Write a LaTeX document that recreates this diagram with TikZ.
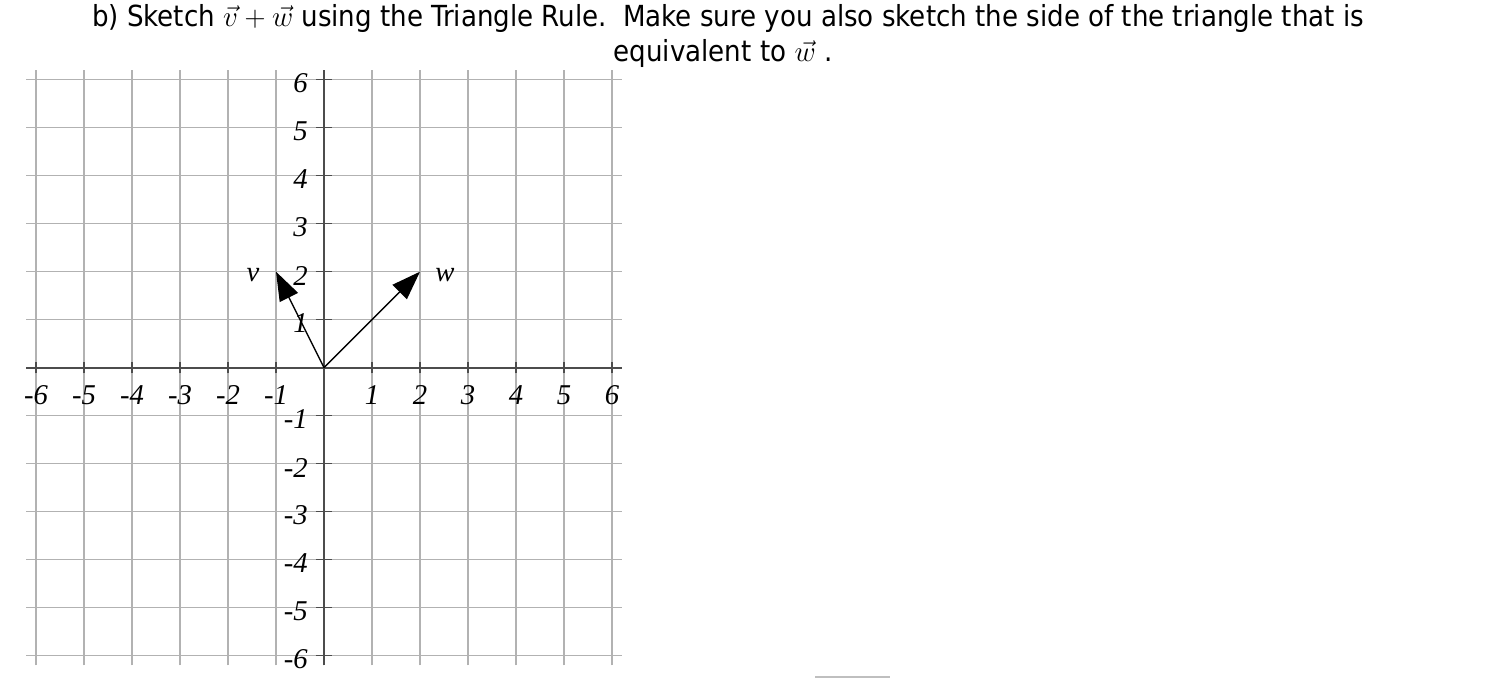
\documentclass[tikz,border=0pt]{standalone}
\usepackage{fontspec}
\setmainfont{DejaVu Sans Condensed}
\newfontfamily\axisfont{Liberation Serif}
\usetikzlibrary{arrows.meta}

\tikzset{
  gridline/.style={draw=gray!60, line width=0.9pt},
  axisline/.style={draw=black!70, line width=1.2pt},
  tickmark/.style={draw=black!70, line width=0.9pt},
  ticklabel/.style={font=\axisfont\itshape\fontsize{17}{20}\selectfont, inner sep=0pt},
  titletext/.style={anchor=base west, inner sep=0pt, font=\fontsize{17.2}{20}\selectfont},
  vecarrow/.style={-{Triangle[length=0.6cm,width=0.42cm]}, line width=0.8pt},
}

\begin{document}
\begin{tikzpicture}
    \useasboundingbox (-6.75,-6.465) rectangle (24.208,7.66);

    % Question text
    \node[titletext] (title1) at (-4.84,7.10) {b) Sketch $\vec{v}+\vec{w}$ using the Triangle Rule.\ \ Make sure you also sketch the side of the triangle that is};
    \node[titletext] (title2) at (6.03,6.375) {equivalent to $\vec{w}$ .};

    % Grid
    \draw[gridline] (-6.2,-6.2) grid (6.2,6.2);

    % Axes
    \draw[axisline] (-6.2,0) -- (6.2,0);
    \draw[axisline] (0,-6.2) -- (0,6.2);

    % Ticks and numbers
    \foreach \i in {-6,-5,-4,-3,-2,-1,1,2,3,4,5,6} {
        \draw[tickmark] (\i,-0.12) -- (\i,0.12);
        \draw[tickmark] (-0.17,\i) -- (0.17,\i);
        \node[ticklabel] (xl\i) at (\i,-0.57) {\i};
        \node[ticklabel,anchor=east] (yl\i) at (-0.33,\i-0.08) {\i};
    }

    % Vectors v and w
    \coordinate (O) at (0,0);
    \coordinate (vtip) at (-1,2);
    \coordinate (wtip) at (2,2);
    \draw[vecarrow] (O) -- (vtip);
    \draw[vecarrow] (O) -- (wtip);
    \node[ticklabel] (vlabel) at (-1.48,1.93) {v};
    \node[ticklabel] (wlabel) at (2.52,1.93) {w};

    % Edge at the bottom
    \draw[gray!50, line width=1pt] (10.23,-6.44) -- (11.79,-6.44);

\end{tikzpicture}
\end{document}
